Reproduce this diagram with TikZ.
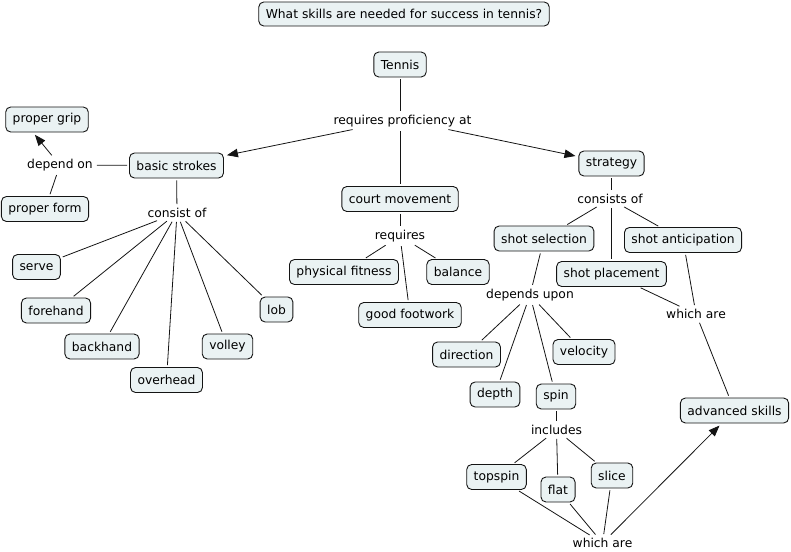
\documentclass[tikz,border=0pt]{standalone}
\usepackage{fontspec}
\setmainfont{DejaVu Sans}
\usetikzlibrary{arrows.meta}
\definecolor{cfill}{RGB}{234,242,243}
\definecolor{cline}{RGB}{20,20,20}
\tikzset{
  concept/.style={draw=cline, line width=0.9pt, rounded corners=5pt, fill=cfill,
    inner xsep=7pt, inner ysep=3pt, minimum height=25pt,
    font=\fontsize{12.3}{14}\selectfont},
  phrase/.style={inner xsep=2pt, inner ysep=2pt, font=\fontsize{12.3}{14}\selectfont},
  conn/.style={draw=cline, line width=0.8pt, shorten <=2pt, shorten >=2pt},
  arr/.style={conn, -{Triangle[length=11pt,width=8.5pt]}, shorten >=3pt}
}
\begin{document}
\begin{tikzpicture}[x=1pt,y=-1pt]
\useasboundingbox (0,0) rectangle (791,551);
% concepts
\node[concept, minimum height=24pt] (T) at (404,14) {What skills are needed for success in tennis?};
\node[concept] (tn) at (400,64.5) {Tennis};
\node[concept] (bs) at (176.5,165.5) {basic strokes};
\node[concept] (st) at (611.5,163.5) {strategy};
\node[concept] (cm) at (400,199) {court movement};
\node[concept] (pg) at (47,119.5) {proper grip};
\node[concept] (pf) at (45,209) {proper form};
\node[concept] (serve) at (36.5,267) {serve};
\node[concept] (fore) at (56,310.5) {forehand};
\node[concept] (back) at (102,346.5) {backhand};
\node[concept] (over) at (166.5,380) {overhead};
\node[concept] (volley) at (227.5,346.5) {volley};
\node[concept] (lob) at (276.5,309.5) {lob};
\node[concept] (phys) at (344,272) {physical fitness};
\node[concept] (bal) at (458,272) {balance};
\node[concept] (foot) at (410,315) {good footwork};
\node[concept] (ssel) at (544,238.5) {shot selection};
\node[concept] (sant) at (683,240) {shot anticipation};
\node[concept] (splc) at (611.5,274) {shot placement};
\node[concept] (dir) at (466.5,354.5) {direction};
\node[concept] (vel) at (584,352) {velocity};
\node[concept] (depth) at (495,394.5) {depth};
\node[concept] (spin) at (556,396.5) {spin};
\node[concept] (adv) at (734.5,410.5) {advanced skills};
\node[concept] (top) at (496.5,477) {topspin};
\node[concept] (flat) at (558,489.5) {flat};
\node[concept] (slice) at (612,475.5) {slice};
% linking phrases
\node[phrase] (rp) at (402.5,121) {requires proficiency at};
\node[phrase] (dep) at (60,165) {depend on};
\node[phrase] (co) at (177,213) {consist of};
\node[phrase] (req) at (400,236) {requires};
\node[phrase] (cso) at (610,199) {consists of};
\node[phrase] (dup) at (530,295) {depends upon};
\node[phrase] (wa1) at (696,314) {which are};
\node[phrase] (inc) at (556.5,430) {includes};
\node[phrase] (wa2) at (602.5,543) {which are};
% connectors
\draw[conn] (tn) -- (tn |- rp.north);
\draw[arr] ([xshift=-48pt]rp.south) -- (bs);
\draw[arr] ([xshift=44pt]rp.south) -- (st);
\draw[conn] (rp.south -| cm) -- (cm);
\draw[conn] (bs) -- (dep);
\draw[arr] ([xshift=-7pt]dep.north) -- ([xshift=-14pt]pg.south);
\draw[conn] (pf) -- (dep);
\draw[conn] (bs) -- (co);
\foreach \n in {serve,fore,back,over,volley,lob} \draw[conn] (co) -- (\n);
\draw[conn] (cm) -- (req);
\foreach \n in {phys,bal,foot} \draw[conn] (req) -- (\n);
\draw[conn] (st) -- (st |- cso.north);
\draw[conn] (cso) -- (ssel);
\draw[conn] (cso.south -| splc) -- (splc);
\draw[conn] (cso) -- (sant);
\draw[conn] (ssel) -- (dup);
\foreach \n in {dir,depth,spin,vel} \draw[conn] (dup) -- (\n);
\draw[conn] (splc) -- (wa1);
\draw[conn] (sant) -- (wa1);
\draw[conn] (wa1) -- (adv);
\draw[conn] (spin) -- (spin |- inc.north);
\foreach \n in {top,flat,slice} \draw[conn] (inc) -- (\n);
\foreach \n in {top,flat,slice} \draw[conn] (\n) -- (wa2);
\draw[arr] (wa2) -- (adv);
\end{tikzpicture}
\end{document}
